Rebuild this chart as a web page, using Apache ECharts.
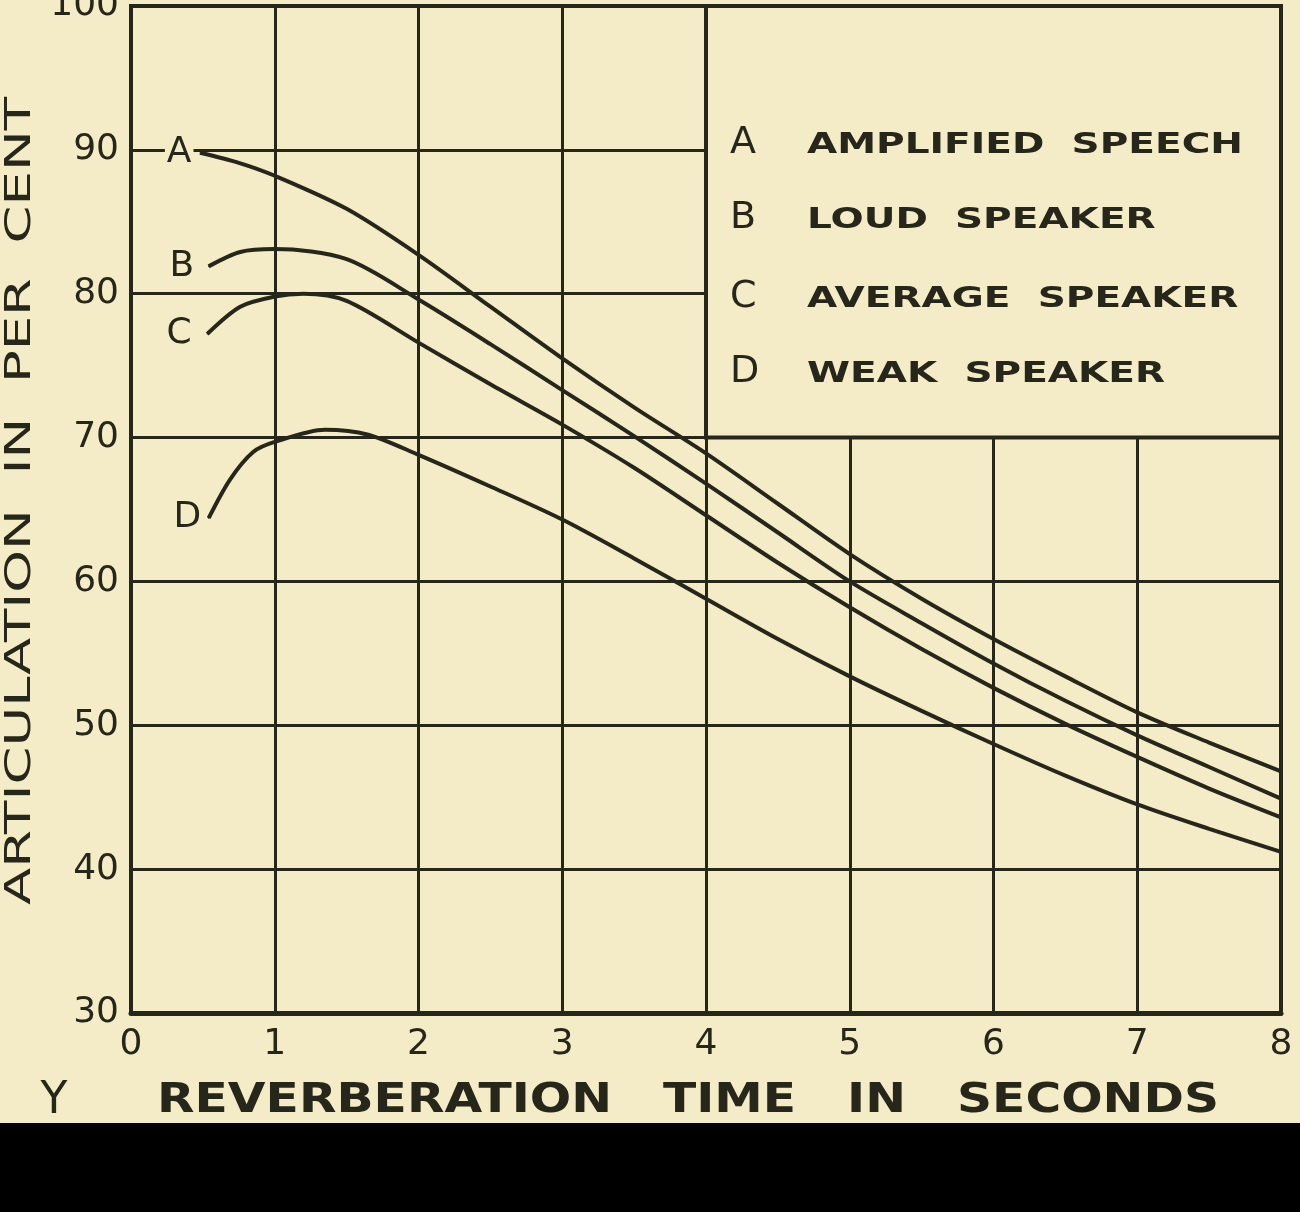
<!DOCTYPE html>
<html>
<head>
<meta charset="utf-8">
<script src="https://cdn.jsdelivr.net/npm/echarts@6/dist/echarts.min.js"></script>
<style>
html,body{margin:0;padding:0;background:#F4ECC6;}
#chart{width:1300px;height:1212px;}
</style>
</head>
<body>
<div id="chart"></div>
<script>
// ---- data ----
const xTicks = [0, 1, 2, 3, 4, 5, 6, 7, 8];
const yTicks = [30, 40, 50, 60, 70, 80, 90, 100];
const seriesLetters = ['A', 'B', 'C', 'D'];
const seriesNames = ['AMPLIFIED  SPEECH', 'LOUD  SPEAKER', 'AVERAGE  SPEAKER', 'WEAK  SPEAKER'];
const xAxisTitle = 'REVERBERATION   TIME   IN   SECONDS';
const yAxisTitle = 'ARTICULATION  IN  PER  CENT';
const figureMark = 'Y';

const curveA = [[0.48,89.8],[0.75,89.1],[1,88.2],[1.5,85.9],[2,82.7],[2.5,79.1],[3,75.5],[3.5,72.1],[4,68.9],[4.5,65.4],[5,61.9],[5.5,58.8],[6,56.0],[6.5,53.4],[7,50.9],[7.5,48.8],[8,46.8]];
const curveB = [[0.54,81.9],[0.76,82.9],[1,83.1],[1.5,82.4],[2,79.6],[2.5,76.5],[3,73.3],[3.5,70.1],[4,66.8],[4.5,63.4],[5,60.0],[5.5,57.1],[6,54.3],[6.5,51.7],[7,49.3],[7.5,47.1],[8,44.9]];
const curveC = [[0.53,77.2],[0.76,79.1],[1,79.8],[1.2,80.0],[1.5,79.5],[2,76.6],[2.5,73.7],[3,70.9],[3.5,67.9],[4,64.6],[4.5,61.3],[5,58.2],[5.5,55.3],[6,52.6],[6.5,50.1],[7,47.8],[7.5,45.6],[8,43.6]];
const curveD = [[0.54,64.4],[0.69,67.1],[0.85,69.0],[1,69.7],[1.35,70.55],[1.65,70.2],[2,68.8],[2.5,66.6],[3,64.3],[3.5,61.6],[4,58.8],[4.5,56.0],[5,53.4],[5.5,51.0],[6,48.7],[6.5,46.5],[7,44.5],[7.5,42.8],[8,41.2]];
const legendBox = [[4, 70], [8, 100]];

// ---- style ----
const BG = '#F4ECC6';
const INK = '#27261A';
const FONT = 'DejaVu Sans';

const cv = document.createElement('canvas').getContext('2d');
function textW(t, size, weight) { cv.font = (weight || 'normal') + ' ' + size + 'px "' + FONT + '"'; return cv.measureText(t).width; }

const curves = [curveA, curveB, curveC, curveD];
const labelDist = [6, 12, 13, 5];

const series = [{
  type: 'line', name: 'box', data: [], z: 1, silent: true,
  markArea: {
    silent: true,
    itemStyle: { color: BG, borderColor: INK, borderWidth: 4 },
    label: { show: false },
    data: [[{ coord: legendBox[0] }, { coord: legendBox[1] }]]
  }
}];
curves.forEach((c, i) => {
  series.push({
    type: 'line', name: seriesLetters[i], z: 3,
    smooth: 0.3, symbol: 'circle', symbolSize: 1, showSymbol: true,
    itemStyle: { color: INK },
    lineStyle: { color: INK, width: 4 },
    data: c.map((p, j) => j === 0 ? {
      value: p,
      label: {
        show: true, position: 'left', distance: labelDist[i], formatter: seriesLetters[i],
        fontFamily: FONT, fontSize: 36, color: INK, backgroundColor: BG, padding: [0, 2]
      }
    } : p)
  });
});

// legend text lines (inside the box)
const graphics = [];
const lgScale = 436 / textW(seriesNames[0], 29, 'bold');
const lgY = [143, 218, 297, 372];
seriesLetters.forEach((l, i) => {
  graphics.push({ type: 'text', x: 730, y: lgY[i], z: 10,
    style: { text: l, fontFamily: FONT, fontSize: 38, fill: INK, align: 'left', verticalAlign: 'middle' } });
  graphics.push({ type: 'text', x: 807, y: lgY[i] + 2, scaleX: lgScale, z: 10,
    style: { text: seriesNames[i], fontFamily: FONT, fontSize: 29, fontWeight: 'bold', fill: INK, align: 'left', verticalAlign: 'middle' } });
});
// axis titles
graphics.push({ type: 'text', x: 688, y: 1102, scaleX: 1062 / textW(xAxisTitle, 40, 'bold'), z: 10,
  style: { text: xAxisTitle, fontFamily: FONT, fontSize: 40, fontWeight: 'bold', fill: INK, align: 'center', verticalAlign: 'middle' } });
graphics.push({ type: 'text', x: 21, y: 501, rotation: Math.PI / 2, scaleX: 808 / textW(yAxisTitle, 35), z: 10,
  style: { text: yAxisTitle, fontFamily: FONT, fontSize: 35, fill: INK, align: 'center', verticalAlign: 'middle' } });
graphics.push({ type: 'text', x: 54, y: 1102, z: 10,
  style: { text: figureMark, fontFamily: FONT, fontSize: 44, fill: INK, align: 'center', verticalAlign: 'middle' } });
// dark band at the bottom of the picture
graphics.push({ type: 'rect', shape: { x: 0, y: 1123, width: 1300, height: 89 }, style: { fill: '#000' }, z: 0 });

const chart = echarts.init(document.getElementById('chart'), null, { renderer: 'canvas' });
chart.setOption({
  animation: false,
  backgroundColor: BG,
  grid: { left: 131, right: 19, top: 6, bottom: 199, containLabel: false, outerBoundsMode: 'none',
          show: true, borderColor: INK, borderWidth: 4, backgroundColor: BG },
  xAxis: {
    type: 'value', min: xTicks[0], max: xTicks[xTicks.length - 1], interval: 1,
    axisLine: { show: true, lineStyle: { color: INK, width: 5 } },
    axisTick: { show: false },
    axisLabel: { fontFamily: FONT, fontSize: 36, color: INK, margin: 14 },
    splitLine: { show: true, lineStyle: { color: INK, width: 3 } }
  },
  yAxis: {
    type: 'value', min: yTicks[0], max: yTicks[yTicks.length - 1], interval: 10,
    axisLine: { show: true, lineStyle: { color: INK, width: 4 } },
    axisTick: { show: false },
    axisLabel: { fontFamily: FONT, fontSize: 36, color: INK, margin: 12 },
    splitLine: { show: true, lineStyle: { color: INK, width: 3 } }
  },
  graphic: graphics,
  series: series
});
</script>
</body>
</html>
